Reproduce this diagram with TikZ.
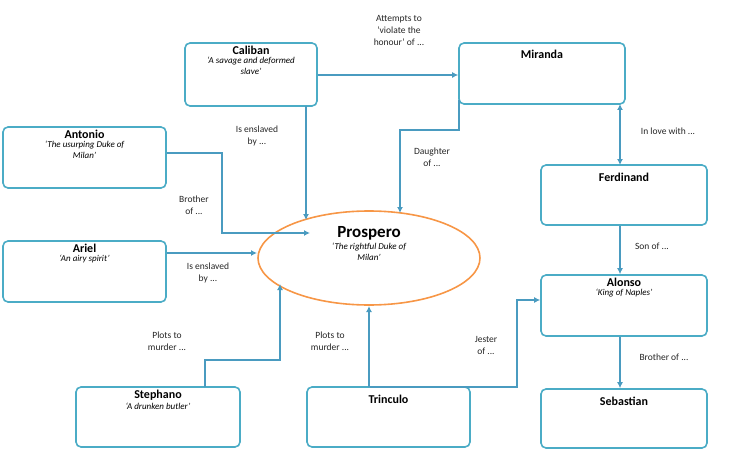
\documentclass[tikz,border=0pt]{standalone}
\usepackage{fontspec}
\setmainfont{Carlito}
\usetikzlibrary{arrows.meta,shapes.geometric}
\definecolor{bx}{HTML}{4BACC6}
\definecolor{ar}{HTML}{4A9BC0}
\definecolor{or}{HTML}{F79646}
\begin{document}
\begin{tikzpicture}[x=1pt,y=-1pt,
 box/.style={draw=bx,line width=1.6pt,rounded corners=5pt,fill=white,align=center,inner sep=0pt},
 ttl/.style={font=\fontsize{12}{14}\selectfont\bfseries,anchor=north,inner sep=0pt},
 sub/.style={font=\fontsize{9}{11}\selectfont\itshape,anchor=north,align=center,inner sep=0pt},
 lab/.style={font=\fontsize{9.5}{12}\selectfont,align=center,text=black!85},
 con/.style={draw=ar,line width=1.2pt,-{Latex[length=6pt,width=6pt]}}]
\useasboundingbox (0,0) rectangle (732,452);
\newcommand{\bxnode}[6]{\node[box,minimum width=#3,minimum height=#4] (#1) at (#2) {};
 \node[ttl] (#1t) at ([yshift=-4]#1.north) {#5};
 \node[sub] at ([yshift=-2]#1t.south) {#6};}
\bxnode{cal}{251,74.5}{132}{63}{Caliban}{‘A savage and deformed\\slave’}
\node[box,minimum width=166,minimum height=61] (mir) at (542,73.5) {};
\node[ttl] at ([yshift=-8]mir.north) {Miranda};
\bxnode{ant}{84.5,157.5}{163}{61}{Antonio}{‘The usurping Duke of\\Milan’}
\bxnode{ari}{84.5,271.5}{163}{61}{Ariel}{‘An airy spirit’}
\node[box,minimum width=166,minimum height=60] (fer) at (624,195) {};
\node[ttl] at ([yshift=-9]fer.north) {Ferdinand};
\bxnode{alo}{624,305.5}{166}{61}{Alonso}{‘King of Naples’}
\node[box,minimum width=166,minimum height=59] (seb) at (624,418.5) {};
\node[ttl] at ([yshift=-9]seb.north) {Sebastian};
\bxnode{ste}{158,417}{164}{60}{Stephano}{‘A drunken butler’}
\node[box,minimum width=163,minimum height=60] (tri) at (388.5,417) {};
\node[ttl] at ([yshift=-9]tri.north) {Trinculo};
\node[draw=or,line width=1.6pt,ellipse,minimum width=222,minimum height=94,inner sep=0pt] (pro) at (369,258) {};
\node[font=\fontsize{17}{19}\selectfont\bfseries,anchor=north,inner sep=0pt] (prot) at (369,226) {Prospero};
\node[sub] at ([yshift=-3]prot.south) {‘The rightful Duke of\\Milan’};
% connectors
\draw[con] (cal.east|-0,75) -- (mir.west|-0,75);
\node[lab] at (399,30) {Attempts to\\‘violate the\\honour’ of ...};
\draw[con] (306,106) -- (306,220);
\node[lab] at (257,136) {Is enslaved\\by ...};
\draw[con] (459,100) -- (459,130) -- (400,130) -- (400,213);
\node[lab] at (432,157) {Daughter\\of ...};
\draw[con,{Latex[length=6pt,width=6pt]}-{Latex[length=6pt,width=6pt]}] (620,104) -- (620,165);
\node[lab] at (668,131) {In love with ...};
\draw[con] (ant.east|-0,153) -- (222,153) -- (222,233) -- (310,233);
\node[lab] at (194,205) {Brother\\of ...};
\draw[con] (ari.east|-0,253) -- (257,253);
\node[lab] at (208,273) {Is enslaved\\by ...};
\draw[con] (fer.south-|620,0) -- (alo.north-|620,0);
\node[lab] at (652,246) {Son of ...};
\draw[con] (alo.south-|620,0) -- (seb.north-|620,0);
\node[lab] at (664,357) {Brother of ...};
\draw[con] (205,387) -- (205,360) -- (280,360) -- (280,284);
\node[lab] at (167,341) {Plots to\\murder ...};
\draw[con] (369,387) -- (369,306);
\node[lab] at (330,341) {Plots to\\murder ...};
\draw[con] (370,387) -- (517,387) -- (517,300) -- (alo.west|-0,300);
\node[lab] at (486,345) {Jester\\of ...};
\end{tikzpicture}
\end{document}
